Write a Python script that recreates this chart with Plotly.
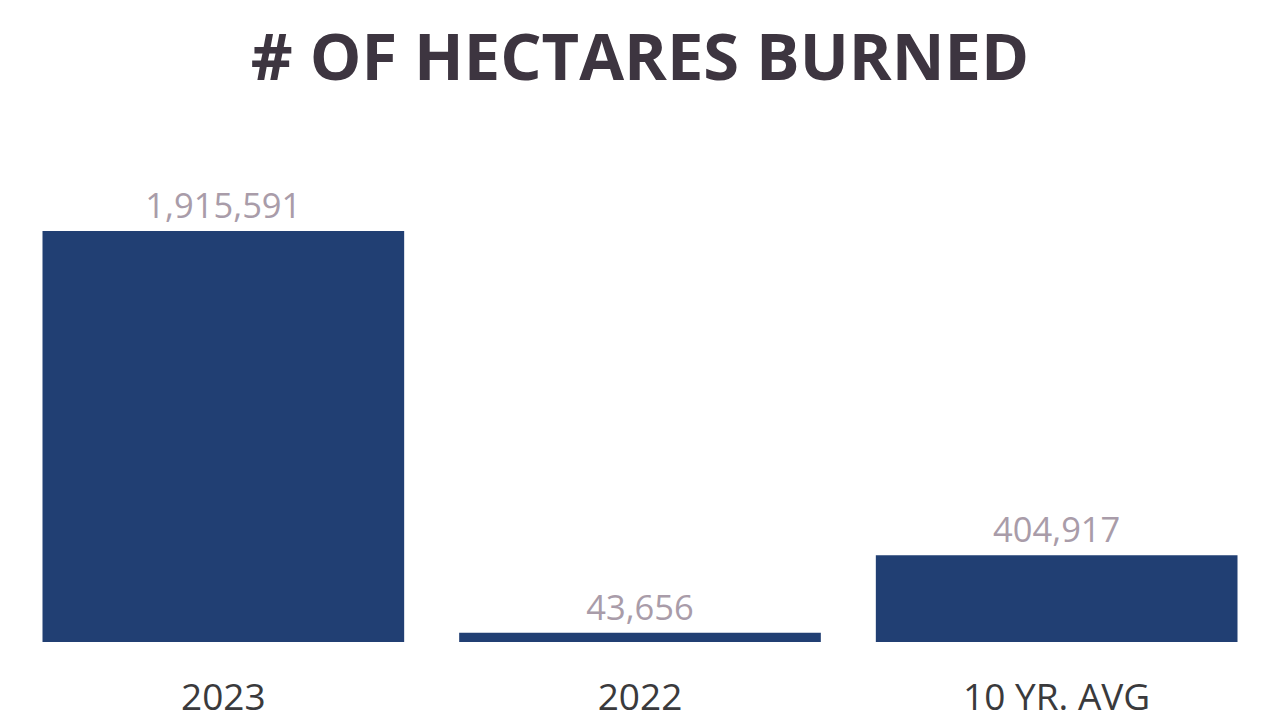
import plotly.graph_objects as go

categories = ["2023", "2022", "10 YR. AVG"]
hectares = [1915591, 43656, 404917]
value_labels = [f"{v:,}" for v in hectares]

fig = go.Figure(
    go.Bar(
        x=categories,
        y=hectares,
        text=value_labels,
        textposition="outside",
        textfont=dict(family="Open Sans", size=34.5, color="#a99ca9"),
        marker=dict(color="#213f73", line=dict(width=0)),
        cliponaxis=False,
        hoverinfo="skip",
    )
)

fig.update_layout(
    width=1280,
    height=720,
    paper_bgcolor="white",
    plot_bgcolor="white",
    bargap=0.132,
    margin=dict(l=6.5, r=22.5, t=162, b=86, autoexpand=False),
    title=dict(
        text="<b># OF HECTARES BURNED</b>",
        x=0.5,
        xanchor="center",
        xref="paper",
        y=0.932,
        yanchor="middle",
        font=dict(family="Open Sans", size=65, color="#3d3540"),
    ),
    showlegend=False,
)
fig.update_xaxes(
    automargin=False,
    showgrid=False,
    showline=False,
    zeroline=False,
    ticks="",
    ticklabelstandoff=30,
    tickfont=dict(family="Open Sans", size=37, color="#3a3a3c"),
)
fig.update_yaxes(
    automargin=False,
    range=[0, 2200000],
    visible=False,
    showgrid=False,
    zeroline=False,
)

fig.write_html("out.html")
